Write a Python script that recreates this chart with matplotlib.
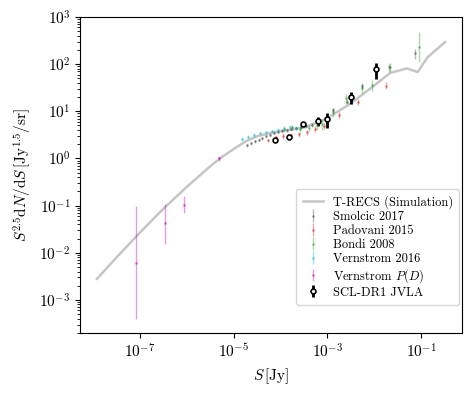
import numpy as np
import matplotlib
matplotlib.use("Agg")
import matplotlib.pyplot as plt
from matplotlib.ticker import LogLocator, NullLocator

plt.rcParams['font.family'] = 'serif'
plt.rcParams['font.serif'] = ['cmr10', 'DejaVu Serif']
plt.rcParams['mathtext.fontset'] = 'cm'
plt.rcParams['axes.formatter.use_mathtext'] = True

# T-RECS simulation curve
trecs_S = [1.2e-8, 3.2e-8, 1e-7, 3.2e-7, 1e-6, 3.2e-6, 5.6e-6, 1e-5, 1.8e-5, 3.2e-5,
           5.6e-5, 1e-4, 3.2e-4, 1e-3, 3.2e-3, 1e-2, 2.2e-2, 5e-2, 8.5e-2, 1.4e-1, 3.3e-1]
trecs_y = [2.8e-3, 8.1e-3, 2.7e-2, 8.7e-2, 0.25, 0.69, 1.07, 1.58, 2.3, 2.95,
           3.4, 3.8, 4.5, 7.1, 14.8, 35, 65, 81, 68, 141, 295]

# Smolcic 2017
smolcic_S = [1.9e-5, 2.3e-5, 2.8e-5, 3.4e-5, 4.1e-5, 5.0e-5, 6.1e-5, 7.4e-5, 9.0e-5, 1.1e-4,
             1.35e-4, 1.7e-4, 2.1e-4, 2.7e-4, 3.5e-4, 4.6e-4, 6.5e-4, 1.3e-3, 2.6e-3, 5.4e-3,
             2.1e-2, 7.5e-2]
smolcic_y = [1.9, 2.1, 2.3, 2.5, 2.7, 3.0, 3.2, 3.5, 3.7, 3.9,
             4.0, 4.2, 4.4, 4.6, 4.9, 5.2, 5.8, 10.5, 16, 35,
             87, 170]
smolcic_err = [0.15, 0.15, 0.15, 0.2, 0.2, 0.2, 0.2, 0.25, 0.25, 0.3,
               0.3, 0.3, 0.35, 0.4, 0.4, 0.5, 0.6, 1.2, 2.0, 5,
               14, 40]

# Padovani 2015
padovani_S = [5.5e-5, 8.0e-5, 1.15e-4, 1.7e-4, 2.5e-4, 3.7e-4, 5.5e-4, 8.5e-4, 1.8e-3, 4.5e-3, 1.75e-2]
padovani_y = [2.4, 2.9, 3.0, 3.1, 3.3, 3.6, 4.2, 4.9, 8.5, 16, 35]
padovani_err = [0.2, 0.3, 0.4, 0.4, 0.4, 0.5, 0.6, 0.7, 1.2, 2.5, 6]

# Bondi 2008
bondi_S = [1.2e-4, 1.8e-4, 2.6e-4, 4.0e-4, 6.0e-4, 7.8e-4, 1.3e-3, 2.5e-3, 5.5e-3, 9.0e-3, 2.2e-2, 9.0e-2]
bondi_y = [4.3, 4.6, 4.2, 4.5, 5.0, 5.5, 9.6, 19, 31, 36, 87, 230]
bondi_lo = [0.6, 0.6, 0.6, 0.7, 0.9, 1.5, 2.0, 4, 7, 9, 20, 120]
bondi_hi = [0.6, 0.6, 0.6, 0.7, 0.9, 1.5, 2.0, 4, 7, 9, 20, 250]

# Vernstrom 2016
vern_S = [1.5e-5, 2.0e-5, 2.7e-5, 3.6e-5, 4.8e-5, 6.5e-5, 8.7e-5, 1.2e-4, 1.6e-4, 2.1e-4]
vern_y = [2.6, 2.9, 3.1, 3.4, 3.6, 3.8, 4.1, 4.3, 4.6, 4.4]
vern_err = [0.3, 0.3, 0.3, 0.3, 0.3, 0.3, 0.35, 0.35, 0.4, 0.4]

# Vernstrom P(D)
pd_S = [8.1e-8, 3.4e-7, 8.7e-7, 4.9e-6]
pd_y = [6e-3, 0.042, 0.105, 1.0]
pd_lo = [5.6e-3, 0.027, 0.037, 0.1]
pd_hi = [0.094, 0.068, 0.055, 0.12]

# SCL-DR1 JVLA
jvla_S = [7.8e-5, 1.5e-4, 3.1e-4, 6.2e-4, 1.0e-3, 3.2e-3, 1.1e-2]
jvla_y = [2.5, 2.8, 5.5, 6.2, 6.8, 20, 78]
jvla_err = [0.2, 0.2, 0.4, 1.3, 2.4, 6, 30]

fig = plt.figure(figsize=(4.74, 3.94), dpi=100)
ax = fig.add_axes([0.169, 0.155, 0.806, 0.802])

ax.plot(trecs_S, trecs_y, color='grey', alpha=0.45, lw=1.8, label='T-RECS (Simulation)')

kw = dict(fmt='.', ms=2, elinewidth=1, alpha=0.4)
ax.errorbar(smolcic_S, smolcic_y, yerr=smolcic_err, color='0.3', label='Smolcic 2017', **kw)
ax.errorbar(padovani_S, padovani_y, yerr=padovani_err, color='tab:red', label='Padovani 2015', **kw)
ax.errorbar(bondi_S, bondi_y, yerr=[bondi_lo, bondi_hi], color='tab:green', label='Bondi 2008', **kw)
ax.errorbar(vern_S, vern_y, yerr=vern_err, color='tab:cyan', label='Vernstrom 2016', **kw)
ax.errorbar(pd_S, pd_y, yerr=[pd_lo, pd_hi], color='m', label=r'Vernstrom $P(D)$', **kw)
ax.errorbar(jvla_S, jvla_y, yerr=jvla_err, fmt='o', ms=3.5, mfc='white', mec='k', mew=1.2,
            color='k', elinewidth=2, label='SCL-DR1 JVLA')

ax.set_xscale('log')
ax.set_yscale('log')
ax.set_xlim(10**-8.28, 10**-0.12)
ax.set_ylim(10**-3.7, 1e3)
ax.set_xticks([1e-7, 1e-5, 1e-3, 1e-1])
ax.xaxis.set_minor_locator(NullLocator())
ax.set_yticks([1e-3, 1e-2, 1e-1, 1e0, 1e1, 1e2, 1e3])
ax.yaxis.set_minor_locator(LogLocator(base=10, subs=np.arange(2, 10), numticks=20))
ax.tick_params(labelsize=11)

ax.set_xlabel(r'$S\,[\rm Jy]$', fontsize=11)
ax.set_ylabel(r'$S^{2.5}{\rm d}N/{\rm d}S\,[{\rm Jy}^{1.5}/{\rm sr}]$', fontsize=11)

ax.legend(loc='lower right', bbox_to_anchor=(0.992, 0.089), borderaxespad=0,
          fontsize=9, labelspacing=0.15, handlelength=1.6, handletextpad=0.8,
          borderpad=0.5, framealpha=0.8)

fig.savefig('out.png', dpi=100)
